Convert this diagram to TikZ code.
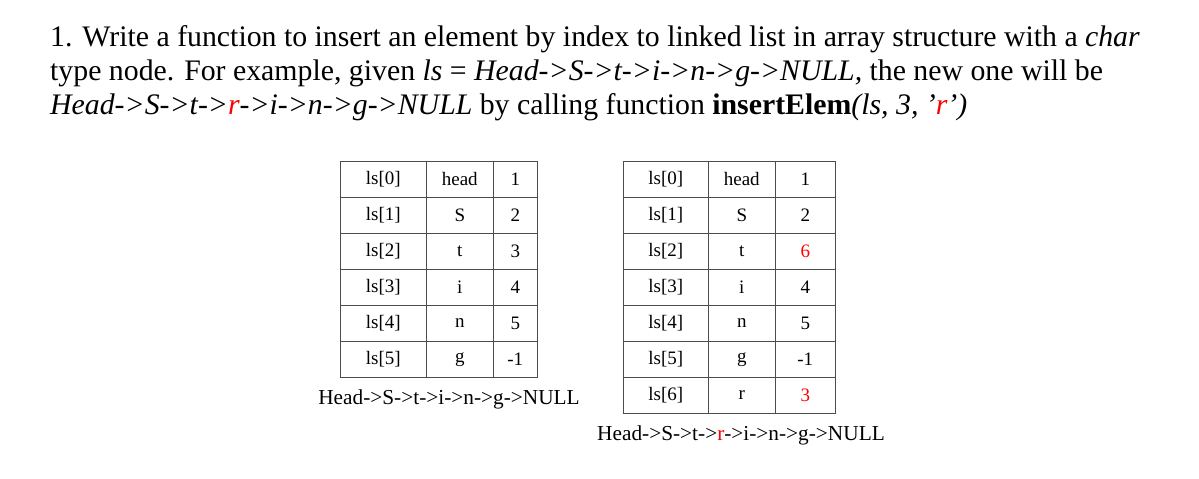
\documentclass[tikz,border=0pt]{standalone}
\usepackage{fontspec}
\setmainfont{Liberation Serif}
\begin{document}
\begin{tikzpicture}[x=1pt,y=-1pt,
  cell/.style={draw=black!70,line width=0.6pt,minimum height=36pt,inner sep=0pt,anchor=north west,font=\fontsize{19}{20}\selectfont},
  hdr/.style={anchor=base west,inner sep=0pt,font=\fontsize{29.8}{31}\selectfont}]
\useasboundingbox (0,0) rectangle (1199,479);
\node[hdr] (l1) at (50,46) {1. Write a function to insert an element by index to linked list in array structure with a \textit{char}};
\node[hdr] (l2) at (50,80) {type node. For example, given \textit{ls} = \textit{Head->S->t->i->n->g->NULL,} the new one will be};
\node[hdr] (l3) at (50,114) {\textit{Head->S->t->\textcolor{red}{r}->i->n->g->NULL} by calling function \textbf{insertElem}\textit{(ls, 3, \symbol{39}\textcolor{red}{r}\symbol{39})}};
% left table
\foreach \n/\b/\c [count=\i from 0] in {0/head/1,1/S/2,2/t/3,3/i/4,4/n/5,5/g/-1}{
  \node[cell,minimum width=86pt] (la\i) at (340,161+36*\i) {ls[\n]};
  \node[cell,minimum width=67pt] (lb\i) at (426,161+36*\i) {\b};
  \node[cell,minimum width=44pt] (lc\i) at (493,161+36*\i) {\c};
}
\node[font=\fontsize{21.3}{22}\selectfont] (lcap) at (449,399) {Head->S->t->i->n->g->NULL};
% right table
\foreach \n/\b/\c [count=\i from 0] in {0/head/1,1/S/2,2/t/\textcolor{red}{6},3/i/4,4/n/5,5/g/-1,6/r/\textcolor{red}{3}}{
  \node[cell,minimum width=85pt] (ra\i) at (623,161+36*\i) {ls[\n]};
  \node[cell,minimum width=67pt] (rb\i) at (708,161+36*\i) {\b};
  \node[cell,minimum width=60pt] (rc\i) at (775,161+36*\i) {\c};
}
\node[font=\fontsize{21.3}{22}\selectfont] (rcap) at (741,435) {Head->S->t->\textcolor{red}{r}->i->n->g->NULL};
\end{tikzpicture}
\end{document}
